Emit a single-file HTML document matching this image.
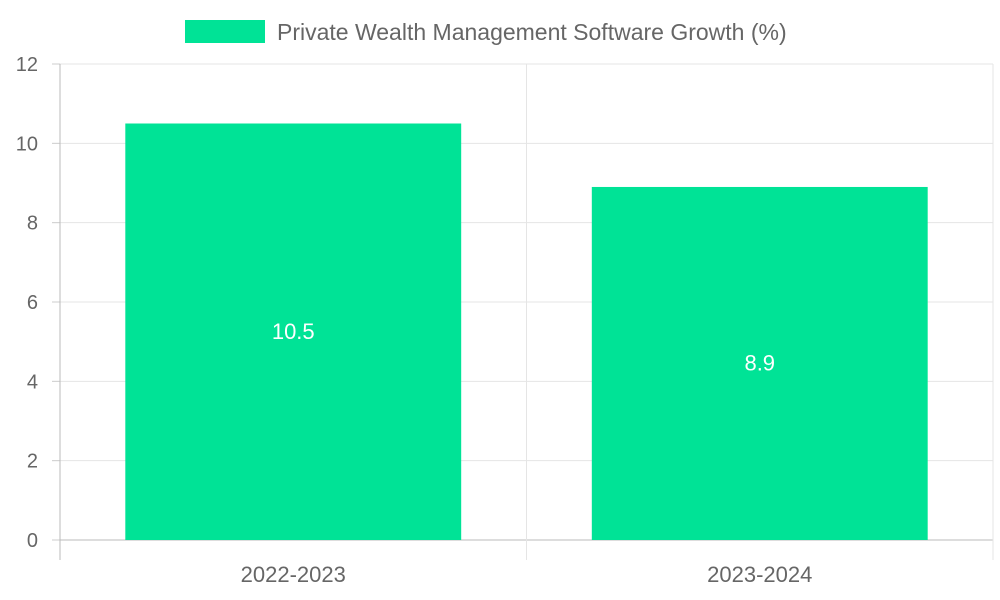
<!DOCTYPE html>
<html><head><meta charset="utf-8"><style>
html,body{margin:0;padding:0;background:#fff;}
svg{display:block;font-family:"Liberation Sans",sans-serif;}
</style></head><body>
<svg id="chart" width="1000" height="600">
<g id="legend">
<rect x="185" y="20" width="80" height="23" fill="#00e396"></rect>
<text x="277" y="40" font-size="23" fill="#666">Private Wealth Management Software Growth (%)</text>
</g>
<g id="grid"></g><g id="bars"></g><g id="axes"></g>
</svg>
<script>
const categories = ["2022-2023", "2023-2024"];
const values = [10.5, 8.9];
const yTicks = [0, 2, 4, 6, 8, 10, 12];
const NS = "http://www.w3.org/2000/svg";
const L = 60, R = 993, T = 64, B = 540, yMax = 12;
const y = v => B - (B - T) * v / yMax;
const cw = (R - L) / categories.length;
const x = i => L + cw * i;
function mk(tag, attrs, parent, text) {
  const e = document.createElementNS(NS, tag);
  for (const k in attrs) e.setAttribute(k, attrs[k]);
  if (text !== undefined) e.textContent = text;
  document.getElementById(parent).appendChild(e);
  return e;
}
yTicks.forEach(t => {
  const l = mk("line", {x1: L, x2: R, y1: y(t), y2: y(t), stroke: t === 0 ? "#bbb" : "#e5e5e5", "stroke-width": 1}, "grid");
  
  
  const tk = mk("line", {x1: L - 8, x2: L, y1: y(t), y2: y(t), stroke: "#ccc"}, "grid");
  
  
  const tx = mk("text", {x: L - 22, y: y(t) + 7, "text-anchor": "end", "font-size": 20, fill: "#666"}, "axes", String(t));
  
  
});
for (let i = 0; i <= categories.length; i++) {
  const l = mk("line", {x1: x(i), x2: x(i), y1: T, y2: B + 20, stroke: i === 0 ? "#bbb" : "#e5e5e5"}, "grid");
  
  
}
categories.forEach((c, i) => {
  const bw = cw * 0.72, bx = x(i) + (cw - bw) / 2;
  const r = mk("rect", {x: bx, y: y(values[i]), width: bw, height: B - y(values[i]), fill: "#00e396"}, "bars");
  
  
  const v = mk("text", {x: bx + bw / 2, y: (y(values[i]) + B) / 2 + 7, "text-anchor": "middle", "font-size": 22, fill: "#fff"}, "bars", String(values[i]));
  
  
  const xl = mk("text", {x: x(i) + cw / 2, y: 582, "text-anchor": "middle", "font-size": 22, fill: "#666"}, "axes", c);
  
  
});
</script>
</body></html>
